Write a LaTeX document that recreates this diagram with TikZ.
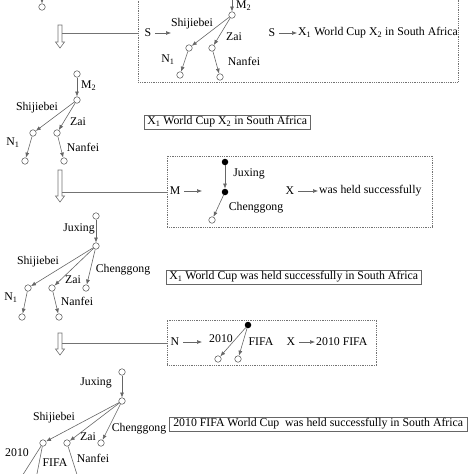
\documentclass[tikz,border=0pt]{standalone}
\usepackage{fontspec}
\setmainfont{Liberation Serif}
\usetikzlibrary{arrows.meta}
\begin{document}
\begin{tikzpicture}[x=1pt,y=-1pt,
 oc/.style={circle,draw=black!70,fill=white,inner sep=0pt,minimum size=6.5pt,line width=0.5pt},
 fc/.style={circle,fill=black,inner sep=0pt,minimum size=6.5pt},
 edge/.style={draw=black!60,line width=0.6pt,-{Latex[length=5pt,width=4pt]}},
 rarr/.style={edge,shorten <=4pt,shorten >=1pt},
 lbl/.style={font=\fontsize{11.8}{13}\selectfont,inner sep=0pt},
 dotbox/.style={draw=black!55,dash pattern=on 0.8pt off 1pt,line width=0.5pt,inner sep=0pt},
 sbox/.style={draw=black!60,line width=0.6pt,inner xsep=3pt,inner ysep=1.5pt,font=\fontsize{11.8}{13}\selectfont},
 conn/.style={draw=black!55,line width=0.6pt},
 pics/hollowdown/.style={code={
   \draw[black!55,line width=0.6pt,fill=white] (-2,0) -- (-2,#1) -- (-4.5,#1) -- (0,#1+6) -- (4.5,#1) -- (2,#1) -- (2,0) -- cycle;}}
]
\useasboundingbox (0,0) rectangle (474,474);
\clip (0,0) rectangle (474,474);

% ---------- top-left remnant ----------
\coordinate (c0t) at (42,-15);
\node[oc] (c0) at (42,7) {};
\draw[edge] (c0t) -- (c0);

% ---------- step 1 ----------
\pic at (60,25) {hollowdown=17};
\node[dotbox,minimum width=320pt,minimum height=95pt,anchor=south west] (box1) at (138,82) {};
\coordinate (h1) at (62,33);
\draw[conn] (h1) -- (h1 -| box1.west);

\node[lbl] (S1) at (148,33) {S};
\coordinate (S1e) at (172,33);
\draw[rarr] (S1) -- (S1e);

\coordinate (b1t) at (232,-12);
\node[oc] (b1a) at (232,15) {};
\draw[edge] (b1t) -- (b1a);
\node[lbl,anchor=west] at (236,6) {M\textsubscript{2}};
\node[oc] (b1n) at (189,48) {};
\node[oc] (b1z) at (212,48) {};
\node[oc] (b1l) at (180,75) {};
\node[oc] (b1r) at (220,77) {};
\draw[edge] (b1a) -- (b1n);
\draw[edge] (b1a) -- (b1z);
\draw[edge] (b1n) -- (b1l);
\draw[edge] (b1z) -- (b1r);
\node[lbl] at (192,24) {Shijiebei};
\node[lbl] at (234,37) {Zai};
\node[lbl] at (168,60) {N\textsubscript{1}};
\node[lbl] at (244,61) {Nanfei};

\node[lbl] (S2) at (272,33) {S};
\node[lbl,anchor=west] (R1) at (298,33) {X\textsubscript{1} World Cup X\textsubscript{2} in South Africa};
\draw[rarr] (S2) -- (R1);

% ---------- tree 2 ----------
\node[oc] (t2a) at (77,74) {};
\node[oc] (t2b) at (77,100) {};
\node[oc] (t2n) at (33,133) {};
\node[oc] (t2z) at (57,133) {};
\node[oc] (t2l) at (25,161) {};
\node[oc] (t2r) at (64,161) {};
\draw[edge] (t2a) -- (t2b);
\draw[edge] (t2b) -- (t2n);
\draw[edge] (t2b) -- (t2z);
\draw[edge] (t2n) -- (t2l);
\draw[edge] (t2z) -- (t2r);
\node[lbl,anchor=west] at (81,86) {M\textsubscript{2}};
\node[lbl] at (37,108) {Shijiebei};
\node[lbl] at (78,122) {Zai};
\node[lbl] at (13,143) {N\textsubscript{1}};
\node[lbl] at (83,147) {Nanfei};

\node[sbox,anchor=west] (r2) at (144,122) {X\textsubscript{1} World Cup X\textsubscript{2} in South Africa};

% ---------- step 2 ----------
\pic at (60,170) {hollowdown=26};
\node[dotbox,minimum width=265pt,minimum height=71pt,anchor=south west] (box2) at (167,227) {};
\coordinate (h2) at (62,192);
\draw[conn] (h2) -- (h2 -| box2.west);

\node[lbl] (M3) at (175,191) {M};
\coordinate (M3e) at (203,191);
\draw[rarr] (M3) -- (M3e);
\node[fc] (f1) at (225,162) {};
\node[fc] (f2) at (225,192) {};
\node[oc] (f3) at (212,220) {};
\draw[edge] (f1) -- (f2);
\draw[edge] (f2) -- (f3);
\node[lbl] at (249,174) {Juxing};
\node[lbl] at (256,208) {Chenggong};
\node[lbl] (X3) at (290,191) {X};
\node[lbl,anchor=west] (R3) at (319,191) {was held successfully};
\draw[rarr] (X3) -- (R3);

\node[sbox,anchor=west] (r3) at (166,277) {X\textsubscript{1} World Cup was held successfully in South Africa};

% ---------- tree 3 ----------
\node[oc] (t3a) at (96,216) {};
\node[oc] (t3b) at (96,246) {};
\node[oc] (t3n) at (28,288) {};
\node[oc] (t3z) at (52,288) {};
\node[oc] (t3c) at (86,288) {};
\node[oc] (t3l) at (22,317) {};
\node[oc] (t3r) at (59,317) {};
\draw[edge] (t3a) -- (t3b);
\draw[edge] (t3b) -- (t3n);
\draw[edge] (t3b) -- (t3z);
\draw[edge] (t3b) -- (t3c);
\draw[edge] (t3n) -- (t3l);
\draw[edge] (t3z) -- (t3r);
\node[lbl] at (79,229) {Juxing};
\node[lbl] at (38,262) {Shijiebei};
\node[lbl] at (73,280) {Zai};
\node[lbl] at (123,270) {Chenggong};
\node[lbl] at (11,298) {N\textsubscript{1}};
\node[lbl] at (77,301) {Nanfei};

% ---------- step 3 ----------
\pic at (60,333) {hollowdown=16};
\node[dotbox,minimum width=209pt,minimum height=45pt,anchor=south west] (box3) at (167,365) {};
\coordinate (h3) at (62,343);
\draw[conn] (h3) -- (h3 -| box3.west);

\node[lbl] (N4) at (175,342) {N};
\coordinate (N4e) at (203,342);
\draw[rarr] (N4) -- (N4e);
\node[fc] (g1) at (248,325) {};
\node[oc] (g2) at (218,359) {};
\node[oc] (g3) at (238,359) {};
\draw[edge] (g1) -- (g2);
\draw[edge] (g1) -- (g3);
\node[lbl] at (221,339) {2010};
\node[lbl] at (261,342) {FIFA};
\node[lbl] (X4) at (291,342) {X};
\node[lbl,anchor=west] (R4) at (316,342) {2010 FIFA};
\draw[rarr] (X4) -- (R4);

% ---------- tree 4 ----------
\node[oc] (t4a) at (122,372) {};
\node[oc] (t4b) at (122,401) {};
\node[oc] (t4n) at (43,443) {};
\node[oc] (t4z) at (67,443) {};
\node[oc] (t4c) at (101,443) {};
\coordinate (t4l1) at (17,484);
\coordinate (t4l2) at (35,484);
\coordinate (t4r) at (80,484);
\draw[edge] (t4a) -- (t4b);
\draw[edge] (t4b) -- (t4n);
\draw[edge] (t4b) -- (t4z);
\draw[edge] (t4b) -- (t4c);
\draw[edge] (t4n) -- (t4l1);
\draw[edge] (t4n) -- (t4l2);
\draw[edge] (t4z) -- (t4r);
\node[lbl] at (96,383) {Juxing};
\node[lbl] at (54,418) {Shijiebei};
\node[lbl] at (88,437) {Zai};
\node[lbl] at (139,429) {Chenggong};
\node[lbl] at (17,453) {2010};
\node[lbl] at (55,463) {FIFA};
\node[lbl] at (93,458) {Nanfei};

\node[sbox,anchor=west,inner xsep=4pt] (r4) at (169,424) {2010 FIFA World Cup\ \ was held successfully in South Africa};
\end{tikzpicture}
\end{document}
